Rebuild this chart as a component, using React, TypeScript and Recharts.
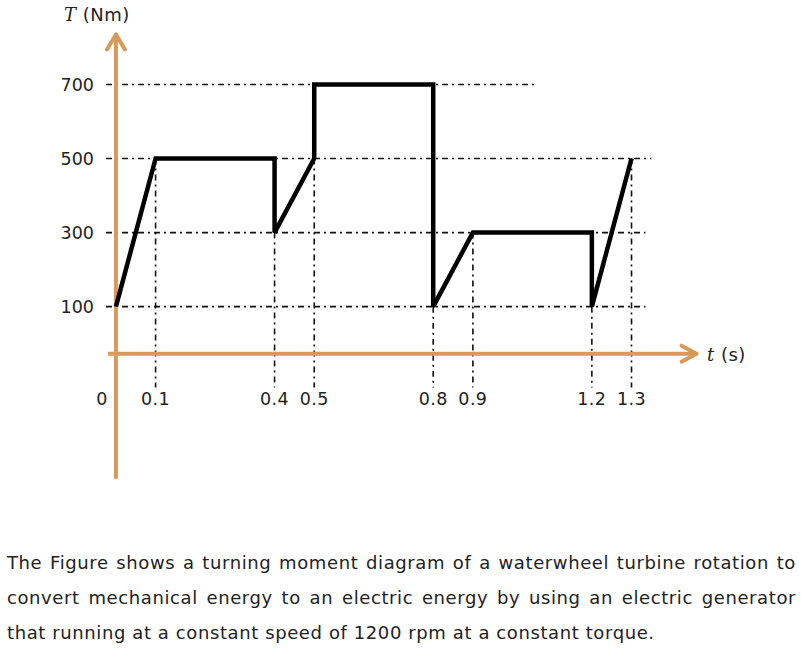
import React from "react";
import {
  ComposedChart,
  Line,
  XAxis,
  YAxis,
  ReferenceLine,
  ReferenceDot,
} from "recharts";

// turning moment diagram, torque vs time
const timePoints = [0, 0.1, 0.4, 0.4, 0.5, 0.5, 0.8, 0.8, 0.9, 1.2, 1.2, 1.3];
const torquePoints = [100, 500, 500, 300, 500, 700, 700, 100, 300, 300, 100, 500];

const torqueTicks = [100, 300, 500, 700];
const timeTicks = [0, 0.1, 0.4, 0.5, 0.8, 0.9, 1.2, 1.3];

// dash-dot guides
const levelValues = [700, 500, 300, 100];
const levelEnds = [1.06, 1.35, 1.335, 1.335];
const dropTimes = [0.1, 0.4, 0.5, 0.8, 0.9, 1.2, 1.3];
const dropTops = [500, 300, 500, 100, 300, 100, 500];

const AXIS_COLOR = "#D69A5B";
const FONT = "'DejaVu Sans', Verdana, sans-serif";
const DASH_DOT = "6 4 2 4";
const AXIS_Y = -27;
const GUIDE_BOTTOM = -118;

const data = timePoints.map((t, i) => ({ t, torque: torquePoints[i] }));

function TimeTick(props: any) {
  const { x, y, payload } = props;
  const v = payload.value as number;
  const label = v === 0 ? "0" : v.toFixed(1);
  return (
    <text
      x={v === 0 ? x - 14 : x}
      y={y - 74}
      textAnchor="middle"
      fontFamily={FONT}
      fontSize={17.5}
      letterSpacing={0.4}
      fill="#222"
    >
      {label}
    </text>
  );
}

function Chevron(props: any) {
  const { cx, cy, dir } = props;
  const d =
    dir === "up"
      ? `M${cx - 9},${cy + 15} L${cx},${cy} L${cx + 9},${cy + 15}`
      : `M${cx - 15},${cy - 8} L${cx},${cy} L${cx - 15},${cy + 8}`;
  return <path d={d} fill="none" stroke={AXIS_COLOR} strokeWidth={4} strokeLinecap="round" strokeLinejoin="round" />;
}

export default function App() {
  return (
    <div style={{ position: "absolute", left: 0, top: 0, width: 802, height: 649, background: "#fff" }}>
      <div style={{ position: "absolute", left: 64, top: 4, fontFamily: FONT, fontSize: 18, letterSpacing: 0.5, color: "#222", whiteSpace: "nowrap" }}>
        <span style={{ fontFamily: "'DejaVu Serif', serif", fontStyle: "italic" }}>T</span>{"\u00a0"}(Nm)
      </div>
      <div style={{ position: "absolute", left: 707, top: 344, fontFamily: FONT, fontSize: 18, letterSpacing: 0.5, color: "#222", whiteSpace: "nowrap" }}>
        <span style={{ fontFamily: "'DejaVu Serif', serif", fontStyle: "italic" }}>t</span>{"\u00a0"}(s)
      </div>

      <ComposedChart
        width={802}
        height={500}
        data={data}
        margin={{ top: 40, right: 111, bottom: 3, left: 48 }}
      >
        <XAxis
          dataKey="t"
          type="number"
          domain={[-0.02, 1.45]}
          ticks={timeTicks}
          axisLine={false}
          tickLine={false}
          tickSize={0}
          height={20}
          tick={<TimeTick />}
          interval={0}
        />
        <YAxis
          type="number"
          domain={[-360, 820]}
          ticks={torqueTicks}
          axisLine={false}
          tickLine={false}
          tickSize={0}
          tickMargin={14}
          width={60}
          tick={{ fontFamily: FONT, fontSize: 17.5, fill: "#222" }}
        />

        {levelValues.map((v, i) => (
          <ReferenceLine
            key={`h${v}`}
            segment={[{ x: -0.025, y: v }, { x: levelEnds[i], y: v }]}
            stroke="#111"
            strokeWidth={1.6}
            strokeDasharray={DASH_DOT}
            ifOverflow="visible"
          />
        ))}
        {dropTimes.map((t, i) => (
          <ReferenceLine
            key={`v${t}`}
            segment={[{ x: t, y: dropTops[i] }, { x: t, y: GUIDE_BOTTOM }]}
            stroke="#111"
            strokeWidth={1.6}
            strokeDasharray={DASH_DOT}
            ifOverflow="visible"
          />
        ))}

        <ReferenceLine
          segment={[{ x: -0.02, y: AXIS_Y }, { x: 1.462, y: AXIS_Y }]}
          stroke={AXIS_COLOR}
          strokeWidth={4}
          ifOverflow="visible"
        />
        <ReferenceLine
          segment={[{ x: 0, y: -365 }, { x: 0, y: 833 }]}
          stroke={AXIS_COLOR}
          strokeWidth={4}
          ifOverflow="visible"
        />
        <ReferenceDot x={1.464} y={AXIS_Y} r={0} ifOverflow="visible" shape={(p: any) => <Chevron {...p} dir="right" />} />
        <ReferenceDot x={0} y={835} r={0} ifOverflow="visible" shape={(p: any) => <Chevron {...p} dir="up" />} />

        <Line
          dataKey="torque"
          type="linear"
          stroke="#000"
          strokeWidth={4.5}
          strokeLinejoin="miter"
          dot={false}
          activeDot={false}
          isAnimationActive={false}
        />
      </ComposedChart>

      <div
        style={{
          position: "absolute",
          left: 7,
          top: 545,
          width: 789,
          fontFamily: FONT,
          fontSize: 18,
          letterSpacing: 0.6,
          lineHeight: "35px",
          color: "#222",
          textAlign: "justify",
        }}
      >
        The Figure shows a turning moment diagram of a waterwheel turbine rotation to convert mechanical energy to an electric energy by using an electric generator that running at a constant speed of 1200 rpm at a constant torque.
      </div>
    </div>
  );
}
